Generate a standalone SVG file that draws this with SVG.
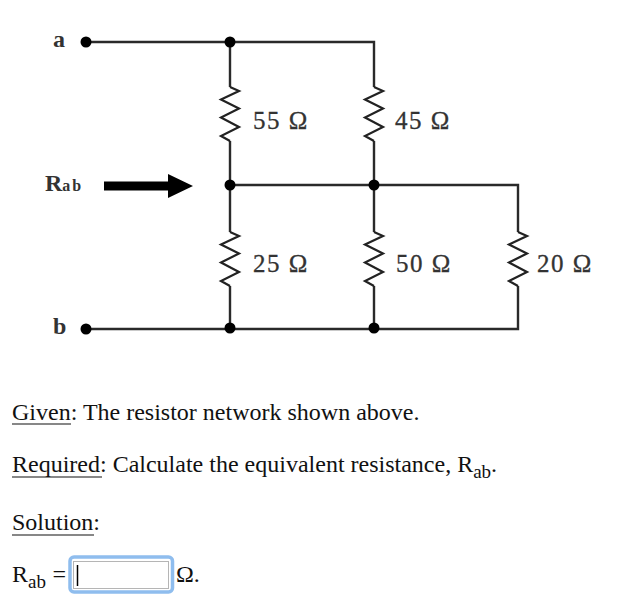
<svg xmlns="http://www.w3.org/2000/svg" width="626" height="608" viewBox="0 0 626 608">
<defs>
<path id="res" d="M0 0L9 4L-9 12.500L9 21.500L-9 30.500L9 40L-9 49L0 54" fill="none" stroke="#222" stroke-width="2.200" stroke-linejoin="miter"/>
</defs>
<style>
.w{fill:none;stroke:#2a2a2a;stroke-width:2.400}
.d{fill:#000}
.l{font-family:"Liberation Serif","Times New Roman",serif;font-size:24px;fill:#333;font-weight:bold;stroke:none}
.c{font-family:"Liberation Serif","Times New Roman",serif;font-size:25px;fill:#333;stroke:#333;stroke-width:.3;letter-spacing:1.500px}
.t{font-family:"Liberation Serif","Times New Roman",serif;font-size:24px;fill:#111}
.s{font-size:19px}
.u{stroke:#111;stroke-width:1.200}
</style>
<rect width="626" height="608" fill="#fff"/>
<g id="connectors">
<path class="w" d="M86 42H374V87M230 42V87M230 141V232M374 141V232M230 185H518V232M230 286V328M374 286V328M518 286V329H86"/>
<use href="#res" x="230" y="87"/>
<use href="#res" x="374" y="87"/>
<use href="#res" x="230" y="232"/>
<use href="#res" x="374" y="232"/>
<use href="#res" x="518" y="232"/>
<path id="arrow" d="M104 181.500H168V174L193 186L168 198V190.500H104Z" fill="#000"/>
</g>
<g id="node-a"><circle class="d" cx="86" cy="42" r="5.500"/><text class="l" x="53" y="47">a</text></g>
<g id="node-b"><circle class="d" cx="86" cy="329" r="5.500"/><text class="l" x="53" y="334">b</text></g>
<g id="junction-1"><circle class="d" cx="230" cy="42" r="5.500"/></g>
<g id="junction-2"><circle class="d" cx="230" cy="185" r="5.500"/></g>
<g id="junction-3"><circle class="d" cx="374" cy="185" r="5.500"/></g>
<g id="junction-4"><circle class="d" cx="230" cy="328" r="5.500"/></g>
<g id="junction-5"><circle class="d" cx="374" cy="328" r="5.500"/></g>
<g id="label-rab"><text class="l" x="45" y="191">R<tspan font-size="16" letter-spacing="2">ab</tspan></text></g>
<g id="r55"><text class="c" x="253" y="128.500">55 Ω</text></g>
<g id="r45"><text class="c" x="395" y="128.500">45 Ω</text></g>
<g id="r25"><text class="c" x="253" y="272">25 Ω</text></g>
<g id="r50"><text class="c" x="396" y="272">50 Ω</text></g>
<g id="r20"><text class="c" x="537" y="272">20 Ω</text></g>
<g id="given"><text class="t" x="12" y="420">Given: The resistor network shown above.</text><line class="u" x1="12" y1="424" x2="71" y2="424"/></g>
<g id="required"><text class="t" x="12" y="472">Required: Calculate the equivalent resistance, R<tspan class="s" dy="6">ab</tspan><tspan dy="-6">.</tspan></text><line class="u" x1="12" y1="477" x2="102" y2="477"/></g>
<g id="solution"><text class="t" x="12" y="530">Solution:</text><line class="u" x1="12" y1="535" x2="94" y2="535"/></g>
<g id="answer">
<text class="t" x="12" y="582">R<tspan class="s" dy="6">ab</tspan></text>
<text class="t" x="52.500" y="582">=</text>
<rect x="70" y="557" width="102.500" height="35" rx="4" fill="#fff" stroke="#8fbdee" stroke-width="3.500"/>
<rect x="73.500" y="561.500" width="95" height="27" fill="#fff" stroke="#b5b5b5" stroke-width="1"/>
<line x1="77.500" y1="565" x2="77.500" y2="586" stroke="#000" stroke-width="1.500"/>
<text class="t" x="176" y="582">Ω.</text>
</g>
</svg>
